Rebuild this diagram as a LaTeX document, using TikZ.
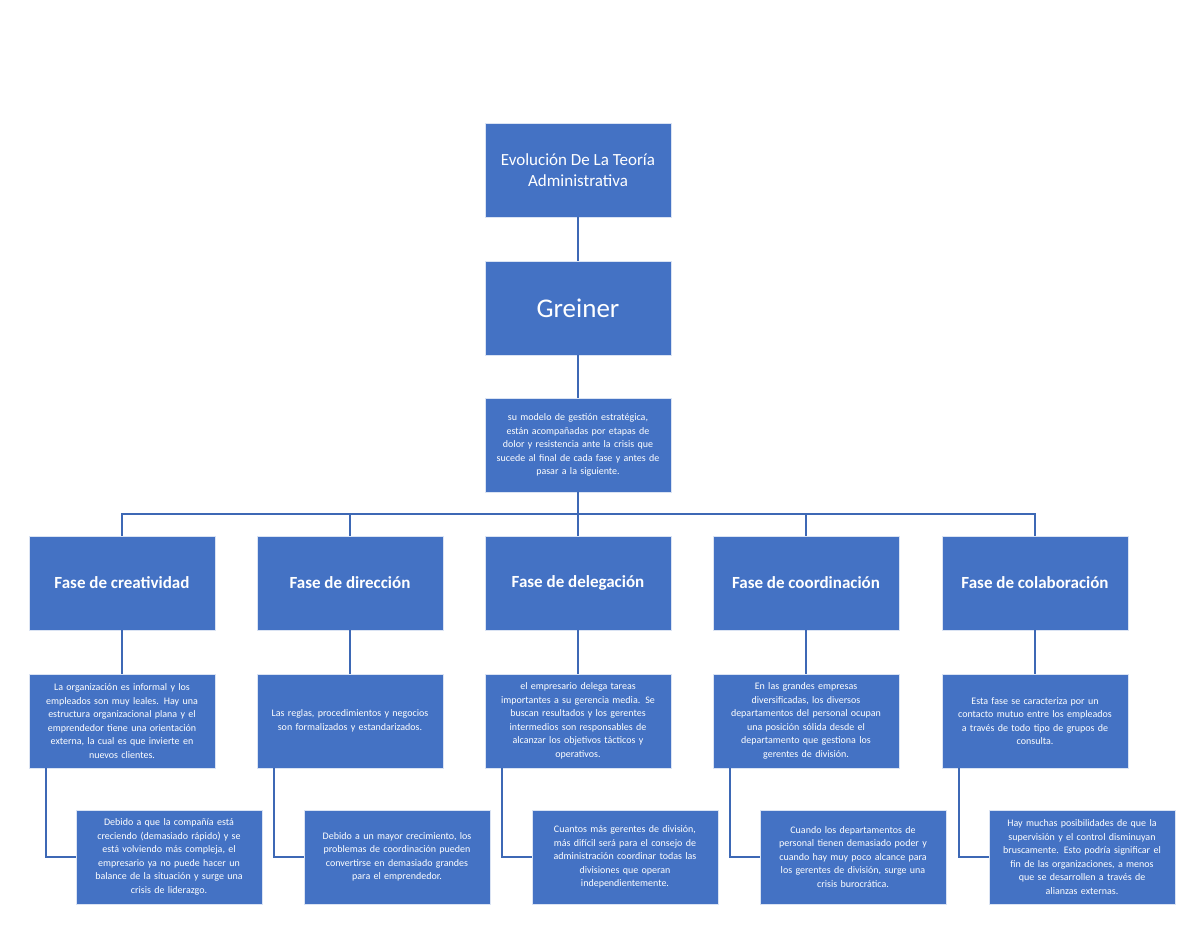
\documentclass[tikz,border=0pt]{standalone}
\usepackage{fontspec}
\setmainfont{Carlito}
\definecolor{bx}{HTML}{4472C4}
\definecolor{ln}{HTML}{3D68B5}
\begin{document}
\begin{tikzpicture}[x=1pt,y=-1pt,
 box/.style={draw=white!80!bx,line width=0.8pt,fill=bx,text=white,minimum width=186pt,minimum height=94pt,align=center,inner sep=1pt},
 sm/.style={box,font=\fontsize{10}{13.5}\selectfont,text width=184pt},
 ph/.style={box,font=\fontsize{17}{20}\selectfont\bfseries},
 con/.style={draw=ln,line width=2pt}]
\useasboundingbox (0,0) rectangle (1200,927);
\node[box,font=\fontsize{17}{21}\selectfont] (t) at (578,170) {Evolución De La Teoría\\Administrativa};
\node[box,font=\fontsize{27}{30}\selectfont] (g) at (578,308) {Greiner};
\node[sm] (d) at (578,445) {su modelo de gestión estratégica,\\están acompañadas por etapas de\\dolor y resistencia ante la crisis que\\sucede al final de cada fase y antes de\\pasar a la siguiente.};
\draw[con] (t) -- (g); \draw[con] (g) -- (d);
\foreach \i/\x/\p/\a/\b in {
1/122/Fase de creatividad/{La organización es informal y los\\empleados son muy leales. Hay una\\estructura organizacional plana y el\\emprendedor tiene una orientación\\externa, la cual es que invierte en\\nuevos clientes.}/{Debido a que la compañía está\\creciendo (demasiado rápido) y se\\está volviendo más compleja, el\\empresario ya no puede hacer un\\balance de la situación y surge una\\crisis de liderazgo.},
2/350/Fase de dirección/{Las reglas, procedimientos y negocios\\son formalizados y estandarizados.}/{Debido a un mayor crecimiento, los\\problemas de coordinación pueden\\convertirse en demasiado grandes\\para el emprendedor.},
3/578/Fase de delegación/{el empresario delega tareas\\importantes a su gerencia media. Se\\buscan resultados y los gerentes\\intermedios son responsables de\\alcanzar los objetivos tácticos y\\operativos.}/{Cuantos más gerentes de división,\\más difícil será para el consejo de\\administración coordinar todas las\\divisiones que operan\\independientemente.},
4/806/Fase de coordinación/{En las grandes empresas\\diversificadas, los diversos\\departamentos del personal ocupan\\una posición sólida desde el\\departamento que gestiona los\\gerentes de división.}/{Cuando los departamentos de\\personal tienen demasiado poder y\\cuando hay muy poco alcance para\\los gerentes de división, surge una\\crisis burocrática.},
5/1035/Fase de colaboración/{Esta fase se caracteriza por un\\contacto mutuo entre los empleados\\a través de todo tipo de grupos de\\consulta.}/{Hay muchas posibilidades de que la\\supervisión y el control disminuyan\\bruscamente. Esto podría significar el\\fin de las organizaciones, a menos\\que se desarrollen a través de\\alianzas externas.}}{
 \node[ph] (p\i) at (\x,583) {\p};
 \node[sm] (a\i) at (\x,721) {\a};
 \node[sm] (b\i) at (\x+47,857) {\b};
 \draw[con] (d.south) -- ++(0,22) -| (p\i.north);
 \draw[con] (p\i) -- (a\i);
 \draw[con] ([xshift=17pt]a\i.south west) |- (b\i.west);
}
\end{tikzpicture}
\end{document}
